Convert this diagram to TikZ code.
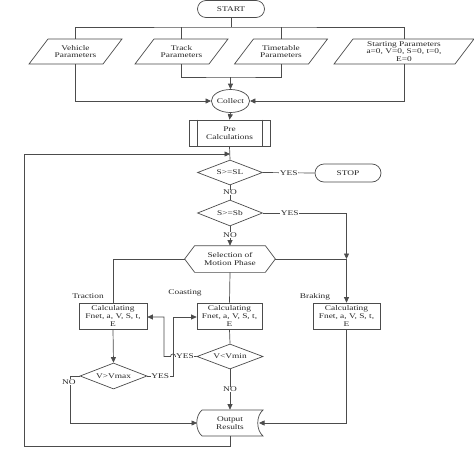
\documentclass[tikz,border=0pt]{standalone}
\usepackage{fontspec}
\setmainfont{Liberation Serif}[FakeStretch=1.3]
\usetikzlibrary{shapes.geometric,shapes.misc,arrows.meta,calc}
\begin{document}
\begin{tikzpicture}[x=1pt,y=-1pt,
  line width=0.7pt,
  every node/.style={font=\fontsize{7.2}{7.6}\selectfont, text=black!85, align=center, inner sep=0pt},
  ln/.style={draw=black!70},
  arr/.style={ln, -{Triangle[length=5.5pt,width=5pt]}},
  term/.style={rounded rectangle, draw=black!70},
  boxx/.style={rectangle, draw=black!70},
  dia/.style={diamond, draw=black!70, aspect=2.6},
  lbl/.style={fill=white, inner sep=0.5pt},
  txt/.style={draw=none}]
\useasboundingbox (0,0) rectangle (474,453);
\fill[white] (0,0) rectangle (474,453);

% START
\node[term, minimum width=67pt, minimum height=17pt] (start) at (231,9) {START};
\coordinate (split) at (231,27);

% parallelogram text nodes
\node[txt, minimum width=74pt, minimum height=25pt] (veh) at (75.5,51.5) {Vehicle\\Parameters};
\node[txt, minimum width=74pt, minimum height=25pt] (trk) at (181.5,51.5) {Track\\Parameters};
\node[txt, minimum width=74pt, minimum height=25pt] (tt) at (281,51.5) {Timetable\\Parameters};
\node[txt, minimum width=120pt, minimum height=25pt] (sp) at (404,51.5) {Starting Parameters\\a=0, V=0, S=0, t=0,\\E=0};
\foreach \n/\hw in {veh/37, trk/37, tt/37, sp/60.5}{
  \draw[ln] ($(\n.center)+(-\hw-9.5,12.5)$) -- ($(\n.center)+(\hw-9.5,12.5)$)
    -- ($(\n.center)+(\hw+9.5,-12.5)$) -- ($(\n.center)+(-\hw+9.5,-12.5)$) -- cycle;
}

\draw[ln] (start.south) -- (split);
\draw[ln] (veh.north) |- (split) -| (sp.north);
\draw[ln] (trk.north) -- (trk.north |- split);
\draw[ln] (tt.north) -- (tt.north |- split);

% Collect
\node[ellipse, draw=black!70, minimum width=35pt, minimum height=23pt] (col) at (230.5,101) {Collect};
\coordinate (jt) at (230.5,77);
\draw[ln] (trk.south) |- (jt) -| (tt.south);
\draw[arr] (jt) -- (col.north);
\draw[arr] (veh.south) |- (col.west);
\draw[arr] (sp.south) |- (col.east);

% Pre calculations
\node[boxx, minimum width=81pt, minimum height=26pt] (pre) at (229.5,133) {Pre\\Calculations};
\draw[ln] ([xshift=9pt]pre.north west) -- ([xshift=9pt]pre.south west);
\draw[ln] ([xshift=-8pt]pre.north east) -- ([xshift=-8pt]pre.south east);
\draw[arr] (col.south) -- (pre.north);

% S>=SL
\node[dia, minimum width=65pt, minimum height=25pt] (d1) at (230,172.5) {S>=SL};
\coordinate (loopin) at (230,154);
\draw[ln] (pre.south) -- (d1.north);
\node[term, minimum width=66pt, minimum height=18pt] (stop) at (348,173) {STOP};
\draw[ln] (d1.east) -- node[lbl, pos=0.5] {YES} (stop.west);

% S>=Sb
\node[dia, minimum width=65pt, minimum height=26pt] (d2) at (230,213) {S>=Sb};
\draw[ln] (d1.south) -- node[lbl, pos=0.5] {NO} (d2.north);

% hexagon
\node[txt, minimum width=90pt, minimum height=26pt] (hex) at (230,259) {Selection of\\Motion Phase};
\draw[ln] (hex.west) -- ($(hex.north west)+(10,0)$) -- ($(hex.north east)+(-10,0)$) -- (hex.east)
  -- ($(hex.south east)+(-10,0)$) -- ($(hex.south west)+(10,0)$) -- cycle;
\draw[arr] (d2.south) -- node[lbl, pos=0.45] {NO} (hex.north);

% boxes
\node[boxx, minimum width=68pt, minimum height=26pt] (trac) at (113,316) {Calculating\\Fnet, a, V, S, t,\\E};
\node[boxx, minimum width=65pt, minimum height=26pt] (coast) at (229.5,316) {Calculating\\Fnet, a, V, S, t,\\E};
\node[boxx, minimum width=67pt, minimum height=26pt] (brk) at (346.5,316) {Calculating\\Fnet, a, V, S, t,\\E};
\node (ltr) at (88,296) {Traction};
\node (lco) at (185,293) {Coasting};
\node (lbr) at (315,297) {Braking};

\coordinate (jb) at (346.5,259);
\coordinate (jb2) at (346.5,213);
\draw[arr] (d2.east) -- node[lbl, pos=0.32] {YES} (jb2) -- (jb);
\draw[ln] (hex.east) -- (jb);
\draw[arr] (jb) -- (brk.north);
\draw[ln] (hex.west) -| (trac.north);
\draw[ln] (hex.south) -- (coast.north);

% V>Vmax
\node[dia, minimum width=67pt, minimum height=26pt] (d3) at (113.5,376) {V>Vmax};
\draw[arr] (trac.south) -- (d3.north);
% V<Vmin
\node[dia, minimum width=66pt, minimum height=25pt] (d4) at (230,356.5) {V<Vmin};
\draw[ln] (coast.south) -- (d4.north);

\coordinate (c3) at (173,376);
\coordinate (c4) at (164,356.5);
\draw[arr] (d3.east) -- node[lbl, pos=0.5] {YES} (c3) -- (173,317) -- (coast.west |- 0,317);
\draw[arr] (d4.west) -- node[lbl, pos=0.55] {YES} (175.5,356.5) arc[start angle=0, end angle=180, radius=2.5pt] -- (c4) -- (164,317) -- (trac.east |- 0,317);

% output
\node[txt, minimum width=66pt, minimum height=26pt] (out) at (230,423) {Output\\Results};
\draw[ln] (202,410) -- (263,410) .. controls (256,416) and (256,430) .. (263,436)
  -- (202,436) .. controls (195,430) and (195,416) .. (202,410) -- cycle;
\draw[arr] (d4.south) -- node[lbl, pos=0.5] {NO} (out.north);
\coordinate (c5) at (70,376);
\draw[arr] (d3.west) -- (c5) -- (70,423) -- (197,423);
\node[lbl] (no3) at (69,382) {NO};
\draw[arr] (brk.south) |- (259,423);
\coordinate (bl) at (24,446);
\draw[arr] (out.south) -- (230,446) -- (bl) -- (24,154) -- (loopin);
\end{tikzpicture}
\end{document}
